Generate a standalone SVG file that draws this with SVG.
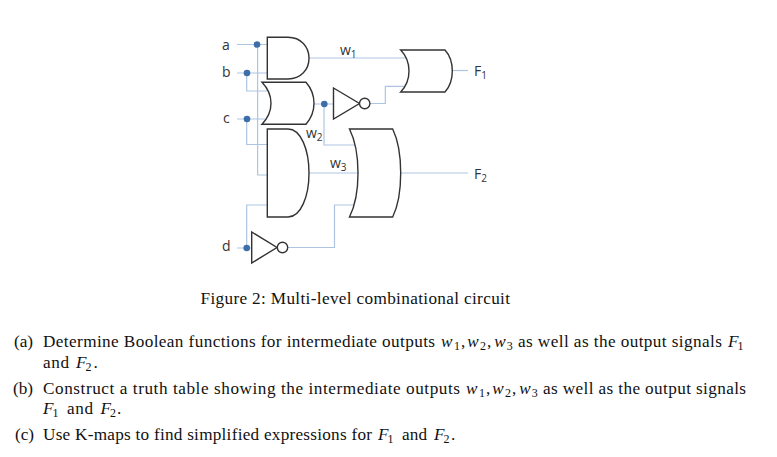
<svg xmlns="http://www.w3.org/2000/svg" width="777" height="457" viewBox="0 0 777 457">
<style>
.g{fill:#fff;stroke:#333;stroke-width:1.4}
.w{fill:none;stroke:#adc5e3;stroke-width:1.2}
.d{fill:#3e6ea9}
.l{font-family:"Open Sans","Noto Sans",sans-serif;font-size:14px;fill:#333}
.s{font-size:10px}
.t{font-family:"Liberation Serif",serif;font-size:17.2px;fill:#111}
.i{font-style:italic}
.u{font-size:12px}
</style>
<rect width="777" height="457" fill="#fff"/>
<g id="connectors">
<path class="w" d="M237 44.500H267M257.600 44.500V175H267"/>
<path class="w" d="M237 73H267M246.700 73V91H270"/>
<path class="w" d="M237 119H265M246.700 119V144.500H267"/>
<path class="w" d="M314 104H333.500M324 104V145H356"/>
<path class="w" d="M309 58H407"/>
<path class="w" d="M370 103.500H385.300V86.300H405"/>
<path class="w" d="M309 173H358"/>
<path class="w" d="M237 248H252M246.700 248V205H267"/>
<path class="w" d="M288 247.500H334.500V205H355"/>
<path class="w" d="M452 70.500H468"/>
<path class="w" d="M401 173H468"/>
</g>
<g id="dot-a"><circle class="d" cx="257" cy="44.500" r="3.300"/></g>
<g id="dot-b"><circle class="d" cx="247" cy="73" r="3.300"/></g>
<g id="dot-c"><circle class="d" cx="247" cy="119" r="3.300"/></g>
<g id="dot-d"><circle class="d" cx="246.700" cy="248" r="3.300"/></g>
<g id="dot-w2"><circle class="d" cx="324.300" cy="104" r="3.300"/></g>
<g id="and1"><path class="g" d="M267.300 37.300H288C301 37.300 309 47 309 58.200C309 69.500 301 79 288 79H267.300Z"/></g>
<g id="or1"><path class="g" d="M262 82.300H306C311 88 314 95 314 103.300C314 111.500 311 118.500 306 124.300H262C268 118 271 111.500 271 103.300C271 95 268 88.500 262 82.300Z"/></g>
<g id="and2"><path class="g" d="M267.300 129H288C301 129 309 150 309 173C309 196 301 217 288 217H267.300Z"/></g>
<g id="or2"><path class="g" d="M349.500 129H392.700C398 140 400.700 156 400.700 173C400.700 190 398 206 392.700 217H349.500C355 206 358 190 358 173C358 156 355 140 349.500 129Z"/></g>
<g id="or3"><path class="g" d="M400.700 50H445C450 55.500 452.300 62.500 452.300 71C452.300 79.500 450 86.500 445 92H400.700C406.500 86 409 79 409 71C409 63 406.500 56 400.700 50Z"/></g>
<g id="not1"><path class="g" d="M333.500 88L359.500 103.500L333.500 119Z"/><circle class="g" cx="364.700" cy="103.500" r="5.200"/></g>
<g id="not2"><path class="g" d="M251.700 232L277 247.500L251.700 263Z"/><circle class="g" cx="282.500" cy="247.500" r="5.200"/></g>
<g id="labels">
<text class="l" x="222" y="50">a</text>
<text class="l" x="222" y="77">b</text>
<text class="l" x="223" y="123">c</text>
<text class="l" x="222" y="251">d</text>
<text class="l" x="340" y="55">w<tspan class="s" dy="2.500">1</tspan></text>
<text class="l" x="306" y="138">w<tspan class="s" dy="2.500">2</tspan></text>
<text class="l" x="330" y="168">w<tspan class="s" dy="2.500">3</tspan></text>
<text class="l" x="474" y="76">F<tspan class="s" dy="2.500">1</tspan></text>
<text class="l" x="474" y="179">F<tspan class="s" dy="2.500">2</tspan></text>
</g>
<g id="caption">
<text class="t" x="200.500" y="303.500" textLength="309.500" lengthAdjust="spacing">Figure 2: Multi-level combinational circuit</text>
</g>
<g id="questions">
<text class="t" x="14" y="347">(a)</text>
<text class="t" x="43" y="347" textLength="392" lengthAdjust="spacing">Determine Boolean functions for intermediate outputs</text>
<text class="t"><tspan class="i" x="441" y="347">w</tspan><tspan class="u" x="454" y="350">1</tspan><tspan x="461" y="347">,</tspan><tspan class="i" x="467.300" y="347">w</tspan><tspan class="u" x="480" y="350">2</tspan><tspan x="487" y="347">,</tspan><tspan class="i" x="494.300" y="347">w</tspan><tspan class="u" x="506.700" y="350">3</tspan></text>
<text class="t" x="518" y="347" textLength="204" lengthAdjust="spacing">as well as the output signals</text>
<text class="t"><tspan class="i" x="728" y="347">F</tspan><tspan class="u" x="737.500" y="350">1</tspan></text>
<text class="t" x="43" y="367.500" textLength="26" lengthAdjust="spacing">and</text>
<text class="t"><tspan class="i" x="76" y="367.500">F</tspan><tspan class="u" x="85.500" y="370.500">2</tspan><tspan x="93.500" y="367.500">.</tspan></text>
<text class="t" x="13" y="394">(b)</text>
<text class="t" x="43" y="394" textLength="417" lengthAdjust="spacing">Construct a truth table showing the intermediate outputs</text>
<text class="t"><tspan class="i" x="466" y="394">w</tspan><tspan class="u" x="479" y="397">1</tspan><tspan x="486" y="394">,</tspan><tspan class="i" x="492.300" y="394">w</tspan><tspan class="u" x="505" y="397">2</tspan><tspan x="512" y="394">,</tspan><tspan class="i" x="519.300" y="394">w</tspan><tspan class="u" x="531.700" y="397">3</tspan></text>
<text class="t" x="543" y="394" textLength="203" lengthAdjust="spacing">as well as the output signals</text>
<text class="t"><tspan class="i" x="43" y="414">F</tspan><tspan class="u" x="52.500" y="417">1</tspan></text>
<text class="t" x="67" y="414" textLength="26" lengthAdjust="spacing">and</text>
<text class="t"><tspan class="i" x="100.500" y="414">F</tspan><tspan class="u" x="110" y="417">2</tspan><tspan x="117" y="414">.</tspan></text>
<text class="t" x="15" y="440">(c)</text>
<text class="t" x="43" y="440" textLength="329" lengthAdjust="spacing">Use K-maps to find simplified expressions for</text>
<text class="t"><tspan class="i" x="378" y="440">F</tspan><tspan class="u" x="387.500" y="443">1</tspan></text>
<text class="t" x="402" y="440" textLength="25" lengthAdjust="spacing">and</text>
<text class="t"><tspan class="i" x="434" y="440">F</tspan><tspan class="u" x="443.500" y="443">2</tspan><tspan x="451" y="440">.</tspan></text>
</g>
</svg>
